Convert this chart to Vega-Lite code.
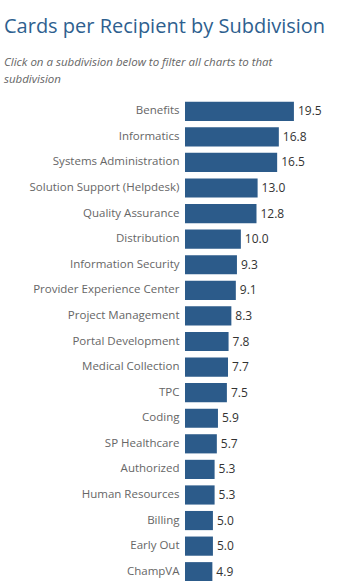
{
  "$schema": "https://vega.github.io/schema/vega-lite/v6.json",
  "autosize": {"type": "none"},
  "width": 155,
  "height": 486,
  "padding": {"left": 185, "top": 98.5, "right": 0, "bottom": 0},
  "background": "#ffffff",
  "title": {
    "text": "Cards per Recipient by Subdivision",
    "subtitle": ["Click on a subdivision below to filter all charts to that", "subdivision"],
    "anchor": "start",
    "frame": "group",
    "dx": -181,
    "offset": 13,
    "font": "Open Sans",
    "fontSize": 20,
    "fontWeight": "normal",
    "color": "#2e5f8f",
    "subtitleFont": "Open Sans",
    "subtitleFontSize": 11.5,
    "subtitleFontStyle": "italic",
    "subtitleColor": "#666666",
    "subtitleLineHeight": 17,
    "subtitlePadding": 20
  },
  "data": {
    "values": [
      {"subdivision": "Benefits", "value": 19.5},
      {"subdivision": "Informatics", "value": 16.8},
      {"subdivision": "Systems Administration", "value": 16.5},
      {"subdivision": "Solution Support (Helpdesk)", "value": 13.0},
      {"subdivision": "Quality Assurance", "value": 12.8},
      {"subdivision": "Distribution", "value": 10.0},
      {"subdivision": "Information Security", "value": 9.3},
      {"subdivision": "Provider Experience Center", "value": 9.1},
      {"subdivision": "Project Management", "value": 8.3},
      {"subdivision": "Portal Development", "value": 7.8},
      {"subdivision": "Medical Collection", "value": 7.7},
      {"subdivision": "TPC", "value": 7.5},
      {"subdivision": "Coding", "value": 5.9},
      {"subdivision": "SP Healthcare", "value": 5.7},
      {"subdivision": "Authorized", "value": 5.3},
      {"subdivision": "Human Resources", "value": 5.3},
      {"subdivision": "Billing", "value": 5.0},
      {"subdivision": "Early Out", "value": 5.0},
      {"subdivision": "ChampVA", "value": 4.9}
    ]
  },
  "encoding": {
    "y": {
      "field": "subdivision",
      "type": "nominal",
      "sort": null,
      "scale": {"paddingInner": 0.25, "paddingOuter": 0.125},
      "axis": {
        "title": null,
        "domain": false,
        "ticks": false,
        "labelPadding": 6,
        "labelFont": "Open Sans",
        "labelFontSize": 11.5,
        "labelColor": "#666666",
        "labelLimit": 200
      }
    },
    "x": {
      "field": "value",
      "type": "quantitative",
      "scale": {"domain": [0, 27.75], "nice": false},
      "axis": null
    }
  },
  "layer": [
    {"mark": {"type": "bar", "color": "#2c5b8a"}},
    {
      "mark": {"type": "text", "align": "left", "baseline": "middle", "dx": 4, "font": "Open Sans", "fontSize": 12, "color": "#333333"},
      "encoding": {"text": {"field": "value", "type": "quantitative", "format": ".1f"}}
    }
  ],
  "config": {"view": {"stroke": null}}
}
